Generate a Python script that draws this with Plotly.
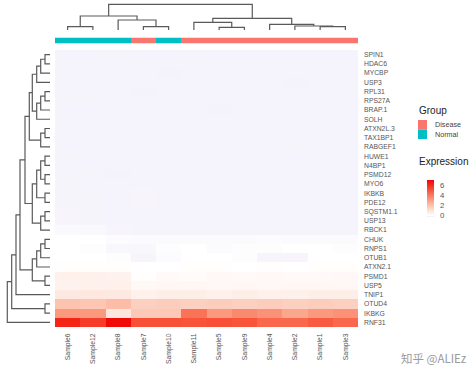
import plotly.graph_objects as go

W, H = 474, 379

# ---------------- data ----------------
samples = ["Sample6", "Sample12", "Sample8", "Sample7", "Sample10", "Sample11",
           "Sample5", "Sample9", "Sample4", "Sample2", "Sample1", "Sample3"]
groups = ["Normal", "Normal", "Normal", "Disease", "Normal", "Disease",
          "Disease", "Disease", "Disease", "Disease", "Disease", "Disease"]
genes = ["SPIN1", "HDAC6", "MYCBP", "USP3", "RPL31", "RPS27A", "BRAP.1", "SOLH",
         "ATXN2L.3", "TAX1BP1", "RABGEF1", "HUWE1", "N4BP1", "PSMD12", "MYO6",
         "IKBKB", "PDE12", "SQSTM1.1", "USP13", "RBCK1", "CHUK", "RNPS1", "OTUB1",
         "ATXN2.1", "PSMD1", "USP5", "TNIP1", "OTUD4", "IKBKG", "RNF31"]

expression = [
    [-0.12, -0.12, -0.11, -0.12, -0.12, -0.12, -0.12, -0.12, -0.12, -0.12, -0.12, -0.12],
    [-0.12, -0.12, -0.12, -0.12, -0.12, -0.11, -0.12, -0.12, -0.12, -0.12, -0.12, -0.12],
    [-0.11, -0.12, -0.12, -0.12, -0.13, -0.12, -0.12, -0.12, -0.12, -0.12, -0.12, -0.12],
    [-0.12, -0.12, -0.12, -0.12, -0.12, -0.12, -0.12, -0.12, -0.12, -0.13, -0.12, -0.12],
    [-0.12, -0.12, -0.12, -0.13, -0.12, -0.12, -0.12, -0.12, -0.12, -0.12, -0.12, -0.12],
    [-0.11, -0.11, -0.12, -0.12, -0.12, -0.12, -0.12, -0.12, -0.12, -0.12, -0.12, -0.12],
    [-0.12, -0.12, -0.12, -0.12, -0.12, -0.12, -0.13, -0.12, -0.12, -0.12, -0.12, -0.12],
    [-0.11, -0.12, -0.12, -0.12, -0.12, -0.12, -0.12, -0.12, -0.12, -0.12, -0.12, -0.12],
    [-0.12, -0.12, -0.12, -0.12, -0.12, -0.12, -0.12, -0.12, -0.12, -0.12, -0.12, -0.12],
    [-0.12, -0.12, -0.12, -0.12, -0.12, -0.12, -0.12, -0.12, -0.11, -0.12, -0.12, -0.12],
    [-0.12, -0.12, -0.12, -0.12, -0.12, -0.12, -0.12, -0.12, -0.12, -0.11, -0.12, -0.12],
    [-0.11, -0.12, -0.12, -0.12, -0.12, -0.12, -0.12, -0.12, -0.12, -0.12, -0.12, -0.12],
    [-0.12, -0.12, -0.12, -0.12, -0.12, -0.12, -0.12, -0.12, -0.12, -0.12, -0.12, -0.12],
    [-0.12, -0.11, -0.13, -0.12, -0.12, -0.12, -0.12, -0.12, -0.12, -0.12, -0.12, -0.12],
    [-0.11, -0.12, -0.12, -0.12, -0.12, -0.12, -0.12, -0.12, -0.12, -0.12, -0.12, -0.12],
    [-0.11, -0.11, -0.12, -0.10, -0.12, -0.12, -0.12, -0.12, -0.12, -0.12, -0.12, -0.12],
    [-0.11, -0.11, -0.12, -0.10, -0.12, -0.12, -0.12, -0.12, -0.12, -0.12, -0.12, -0.12],
    [-0.10, -0.11, -0.12, -0.12, -0.12, -0.12, -0.12, -0.12, -0.12, -0.12, -0.12, -0.12],
    [-0.10, -0.11, -0.12, -0.12, -0.12, -0.12, -0.12, -0.12, -0.12, -0.12, -0.12, -0.12],
    [-0.06, -0.07, -0.10, -0.11, -0.11, -0.11, -0.11, -0.11, -0.11, -0.11, -0.11, -0.11],
    [0.00, 0.00, -0.03, -0.05, -0.05, -0.05, -0.05, -0.05, -0.04, -0.05, -0.05, -0.05],
    [0.00, -0.02, -0.08, -0.08, -0.02, 0.00, -0.05, -0.02, -0.02, 0.00, 0.00, -0.02],
    [0.00, 0.00, -0.02, -0.10, -0.03, 0.00, 0.00, -0.02, -0.10, -0.10, 0.00, 0.00],
    [0.05, 0.05, 0.05, 0.00, 0.00, 0.05, 0.05, 0.00, 0.05, 0.00, 0.05, 0.05],
    [0.50, 0.50, 0.45, 0.05, 0.20, 0.15, 0.25, 0.20, 0.25, 0.20, 0.20, 0.25],
    [0.45, 0.50, 0.50, 0.25, 0.30, 0.30, 0.25, 0.30, 0.25, 0.30, 0.30, 0.30],
    [0.80, 0.85, 0.80, 0.55, 0.60, 0.60, 0.55, 0.60, 0.55, 0.55, 0.60, 0.60],
    [2.00, 1.90, 2.20, 1.60, 1.70, 1.60, 1.70, 1.60, 1.70, 1.60, 1.70, 1.60],
    [3.20, 3.20, 0.90, 1.80, 1.80, 4.20, 3.20, 3.60, 3.40, 2.80, 3.20, 3.40],
    [6.20, 5.60, 6.90, 5.10, 5.10, 5.00, 5.10, 5.00, 4.50, 4.50, 4.80, 4.50],
]

# hierarchical clustering of samples (hclust style: name = leaf, int = earlier merge, 1-based)
col_merge_left = ["Sample6", "Sample7", "Sample8", 1, "Sample5", "Sample11", "Sample1", "Sample2", "Sample4", 6, 4]
col_merge_right = ["Sample12", "Sample10", 2, 3, "Sample9", 5, "Sample3", 7, 8, 9, 10]
col_merge_height = [3.3, 3.3, 10.0, 14.0, 2.7, 7.7, 3.3, 4.0, 5.7, 11.7, 25.7]

# hierarchical clustering of genes
row_merge_left = ["SPIN1", 1, 2, "RPL31", 4, 5, 3, "ATXN2L.3", 8, 7,
                  "HUWE1", "PSMD12", 11, "IKBKB", 13, "SQSTM1.1", 16, 15, 10,
                  "CHUK", 20, 21, "PSMD1", 22, 19, 25, "OTUD4", 26, 28]
row_merge_right = ["HDAC6", "MYCBP", "USP3", "RPS27A", "BRAP.1", "SOLH", 6, "TAX1BP1", "RABGEF1", 9,
                   "N4BP1", "MYO6", 12, "PDE12", 14, "USP13", "RBCK1", 17, 18,
                   "RNPS1", "OTUB1", "ATXN2.1", "USP5", 23, 24, "TNIP1", "IKBKG", 27, "RNF31"]
row_merge_height = [5, 9.3, 13.3, 5, 9.3, 13.3, 17.7, 5, 9.3, 20.7,
                    5, 5, 9.3, 5, 13.3, 5, 9.3, 17.7, 25,
                    5, 9.3, 13.3, 5, 17.7, 30, 34, 5, 38.3, 42.7]

group_names = ["Disease", "Normal"]
group_colors = ["#F8766D", "#00BFC4"]

z_min, z_max = -0.25, 7.0
legend_ticks = [0, 2, 4, 6]


# ---------------- helpers ----------------
def dendro_segments(leaves, left, right, height):
    pos = {}
    hgt = {}

    def ref(r):
        if isinstance(r, str):
            return float(leaves.index(r)), 0.0
        return pos[r], hgt[r]

    P, Hh = [], []
    for k, (a, b, h) in enumerate(zip(left, right, height), start=1):
        pa, ha = ref(a)
        pb, hb = ref(b)
        P += [pa, pa, pb, pb, None]
        Hh += [ha, h, h, hb, None]
        pos[k] = (pa + pb) / 2
        hgt[k] = h
    return P, Hh


def px_x(p):
    return p / W


def px_y(p):
    return 1 - p / H


# layout in pixels
hm_x0, hm_x1 = 55, 358
hm_y0, hm_y1 = 50, 327
ann_y0, ann_y1 = 37.5, 43.5

cs = [
    [0.0, "#EAE6F6"],
    [(0 - z_min) / (z_max - z_min), "#FFFFFF"],
    [(1 - z_min) / (z_max - z_min), "#FDE3D9"],
    [(2 - z_min) / (z_max - z_min), "#FCC3AF"],
    [(3 - z_min) / (z_max - z_min), "#FBA086"],
    [(4 - z_min) / (z_max - z_min), "#FA7B5E"],
    [(5 - z_min) / (z_max - z_min), "#F85439"],
    [(6 - z_min) / (z_max - z_min), "#F52C1C"],
    [1.0, "#F00505"],
]

fig = go.Figure()

fig.add_trace(go.Heatmap(
    z=expression, x=samples, y=genes,
    zmin=z_min, zmax=z_max, colorscale=cs,
    xaxis="x", yaxis="y", hoverongaps=False,
    colorbar=dict(
        x=px_x(417), xanchor="left", xref="paper",
        y=px_y(198.5), yanchor="middle", yref="paper",
        len=57, lenmode="pixels", thickness=7, thicknessmode="pixels",
        outlinewidth=0, tickvals=legend_ticks,
        ticks="outside", ticklen=5, tickcolor="rgba(0,0,0,0)",
        tickfont=dict(size=7.8, color="#555555", family="Liberation Sans, Arial"),
    ),
))

# group annotation bar
grp_idx = [group_names.index(g) for g in groups]
fig.add_trace(go.Heatmap(
    z=[grp_idx], x=samples, y=["Group"],
    zmin=0, zmax=1,
    colorscale=[[0, group_colors[0]], [0.5, group_colors[0]], [0.5, group_colors[1]], [1, group_colors[1]]],
    showscale=False, xaxis="x4", yaxis="y4", hoverinfo="skip",
))

# column dendrogram
cx, ch = dendro_segments(samples, col_merge_left, col_merge_right, col_merge_height)
fig.add_trace(go.Scatter(x=cx, y=ch, mode="lines", xaxis="x2", yaxis="y2",
                         line=dict(color="#5a5a5a", width=1.2), hoverinfo="skip", showlegend=False))

# row dendrogram
ry, rh = dendro_segments(genes, row_merge_left, row_merge_right, row_merge_height)
fig.add_trace(go.Scatter(x=rh, y=ry, mode="lines", xaxis="x3", yaxis="y3",
                         line=dict(color="#5a5a5a", width=1.2), hoverinfo="skip", showlegend=False))

hidden = dict(visible=False, showgrid=False, zeroline=False, fixedrange=True)
font_lbl = dict(size=6.8, color="#555555", family="Liberation Sans, Arial")

fig.update_layout(
    width=W, height=H, autosize=False,
    margin=dict(l=0, r=0, t=0, b=0),
    paper_bgcolor="white", plot_bgcolor="white",
    showlegend=False,
    xaxis=dict(domain=[px_x(hm_x0), px_x(hm_x1)], anchor="y", tickangle=-90,
               showgrid=False, zeroline=False, ticks="", tickfont=font_lbl,
               automargin=False, ticklabelstandoff=4, showline=False),
    yaxis=dict(domain=[px_y(hm_y1), px_y(hm_y0)], anchor="x", side="right",
               autorange="reversed", showgrid=False, zeroline=False, ticks="",
               tickfont=font_lbl, automargin=False, ticklabelstandoff=5, showline=False),
    xaxis2=dict(domain=[px_x(hm_x0), px_x(hm_x1)], anchor="y2", range=[-0.5, len(samples) - 0.5], **hidden),
    yaxis2=dict(domain=[px_y(32), px_y(2)], anchor="x2", range=[-2, 28], **hidden),
    xaxis3=dict(domain=[px_x(5), px_x(52)], anchor="y3", range=[45, -2], **hidden),
    yaxis3=dict(domain=[px_y(hm_y1), px_y(hm_y0)], anchor="x3", range=[len(genes) - 0.5, -0.5], **hidden),
    xaxis4=dict(domain=[px_x(hm_x0), px_x(hm_x1)], anchor="y4", **hidden),
    yaxis4=dict(domain=[px_y(ann_y1), px_y(ann_y0)], anchor="x4", **hidden),
)

title_font = dict(size=10, color="#222222", family="Liberation Sans, Arial")
small_font = dict(size=7.2, color="#444444", family="Liberation Sans, Arial")

annotations = [
    dict(text="Group", x=px_x(417), y=px_y(110), xanchor="left", yanchor="middle", font=title_font),
    dict(text="Expression", x=px_x(417), y=px_y(161), xanchor="left", yanchor="middle", font=title_font),
]
shapes = []
sw_top = 120
for i, (gname, gcol) in enumerate(zip(group_names, group_colors)):
    y0 = sw_top + i * 9.5
    shapes.append(dict(type="rect", xref="paper", yref="paper",
                       x0=px_x(418), x1=px_x(427), y0=px_y(y0 + 9.5), y1=px_y(y0),
                       fillcolor=gcol, line=dict(width=0)))
    annotations.append(dict(text=gname, x=px_x(433), y=px_y(y0 + 4.75), xanchor="left",
                            yanchor="middle", font=small_font))

annotations.append(dict(text="知乎 @ALIEz", x=px_x(469), y=px_y(358), xanchor="right", yanchor="middle",
                        font=dict(size=11.5, color="#9a9a9a", family="Noto Sans CJK SC"),
                        xref="paper", yref="paper"))

for a in annotations:
    a.setdefault("xref", "paper")
    a.setdefault("yref", "paper")
    a["showarrow"] = False

fig.update_layout(annotations=annotations, shapes=shapes)

fig.write_html("out.html",
               config={"displayModeBar": False},
               post_script="document.body.style.margin='0px';document.body.style.padding='0px';")
